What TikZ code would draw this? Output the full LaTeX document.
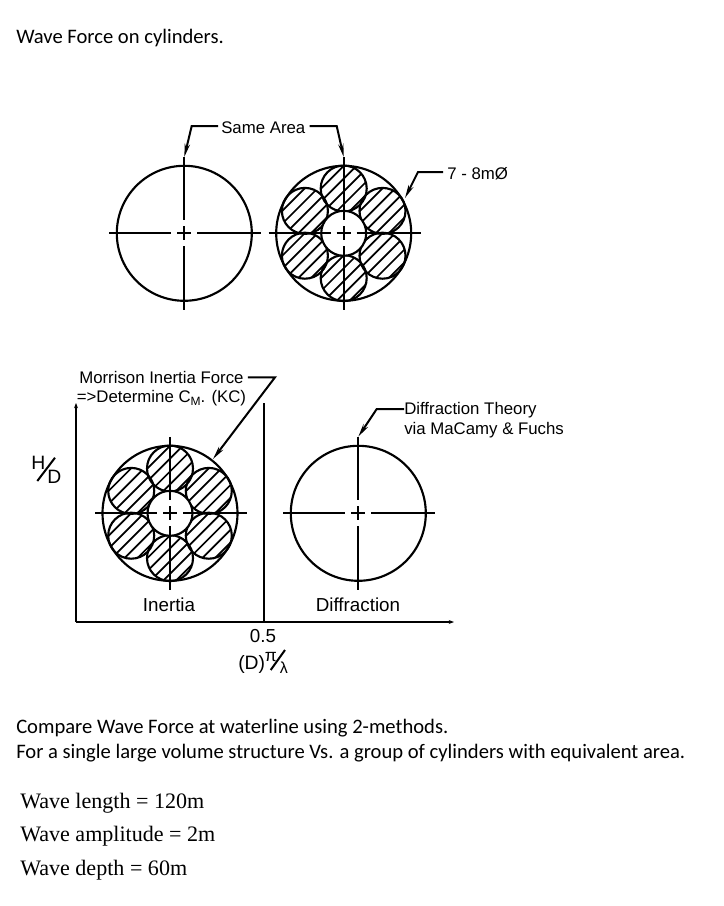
\documentclass[tikz,border=0pt]{standalone}
\usepackage{fontspec}
\setmainfont{Liberation Sans}
\newfontfamily\calfont{Carlito}
\newfontfamily\serfont{Liberation Serif}
\usetikzlibrary{arrows.meta}
\tikzset{
  outline/.style={line width=1.6pt},
  centreline/.style={line width=1.5pt},
  leader/.style={line width=1.5pt,-{Stealth[length=10pt,width=4pt]}},
  axisline/.style={line width=1.6pt},
  hatchline/.style={line width=1.3pt},
  dwg/.style={anchor=base west,inner sep=0pt,font=\fontsize{12.6}{15}\selectfont},
  dwgc/.style={anchor=base,inner sep=0pt,font=\fontsize{14.1}{16}\selectfont},
  note/.style={anchor=base west,inner sep=0pt,font=\calfont\fontsize{15.45}{18}\selectfont},
  given/.style={anchor=base west,inner sep=0pt,font=\serfont\fontsize{16.55}{19}\selectfont},
}
% centre lines with the central cross, local to the current scope
\newcommand\crosslines{%
  \draw[centreline] (-75,0) -- (-13,0) (-7,0) -- (7,0) (13,0) -- (77,0);
  \draw[centreline] (0,-76.5) -- (0,-13) (0,-7) -- (0,7) (0,13) -- (0,76.5);
}
\newcommand\plaincyl{%
  \draw[outline] (0,0) circle[radius=67.5];
  \crosslines
}
\newcommand\groupcyl{%
  \draw[outline] (0,0) circle[radius=67.5];
  \foreach \a in {30,90,150,210,270,330}{
    \begin{scope}[shift={(\a:44.8)}]
      \begin{scope}
        \clip (0,0) circle[radius=23];
        \foreach \k in {-5,...,5}
          \draw[hatchline] ({-30+12.8*\k+3},30) -- ({30+12.8*\k+3},-30);
      \end{scope}
      \draw[outline] (0,0) circle[radius=23];
    \end{scope}
  }
  \draw[outline,fill=white] (0,0) circle[radius=22.5];
  \crosslines
}
\begin{document}
\begin{tikzpicture}[x=0.75pt,y=-0.75pt]
\useasboundingbox (0,0) rectangle (724,906);
\fill[white] (0,0) rectangle (724,906);

\node[note] (title) at (16,44) {Wave Force on cylinders.};

% top row
\begin{scope}[shift={(184.3,233.3)}]\plaincyl\end{scope}
\begin{scope}[shift={(343.7,233.3)}]\groupcyl\end{scope}
\coordinate (tipL) at (184.3,157);
\coordinate (tipR) at (343.7,157);
\coordinate (tipH) at (405,198);
\coordinate (kneeL) at (191.7,126);
\coordinate (kneeR) at (336.7,126);
\coordinate (kneeH) at (418,172);
\node[dwg] (same) at (221,133) {Same Area};
\node[dwg] (dia) at (447,179.5) {7 - 8m\O};
\draw[leader] ([xshift=-2.2pt]same.west |- kneeL) -- (kneeL) -- (tipL);
\draw[leader] ([xshift=3pt]same.east |- kneeR) -- (kneeR) -- (tipR);
\draw[leader] ([xshift=-3pt]dia.west |- kneeH) -- (kneeH) -- (tipH);

% chart
\coordinate (origin) at (76,622);
\coordinate (ytop) at (76,403);
\coordinate (xend) at (454,622);
\coordinate (divtop) at (264,403);
\coordinate (divbot) at (264,622);
\draw[axisline,-{Stealth[length=4pt,width=3pt]}] (origin) -- (ytop);
\draw[axisline,-{Stealth[length=4pt,width=3pt]}] (origin) -- (xend);
\draw[axisline] (divbot) -- (divtop);

\begin{scope}[shift={(170,513.3)}]\groupcyl\end{scope}
\begin{scope}[shift={(358.3,513.3)}]\plaincyl\end{scope}

\node[dwg] (morr) at (79,383) {Morrison Inertia Force};
\node[dwg] (det) at (76.5,402.5) {=>Determine C\raisebox{-2.5pt}{\fontsize{9}{10}\selectfont M}. (KC)};
\coordinate (tipM) at (213,459);
\coordinate (kneeM) at (275,377.3);
\draw[leader] ([xshift=3pt]morr.east |- kneeM) -- (kneeM) -- (tipM);

\node[dwg] (dif1) at (404,414.5) {Diffraction Theory};
\node[dwg] (dif2) at (404,434.5) {via MaCamy \& Fuchs};
\coordinate (tipD) at (358.3,436.7);
\coordinate (kneeD) at (376.7,409);
\draw[leader] (dif1.west |- kneeD) -- (kneeD) -- (tipD);

\node[dwgc] (inertia) at (169,611.5) {Inertia};
\node[dwgc] (diffr) at (358,611.5) {Diffraction};
\node[dwgc] (half) at (263,642) {0.5};

% axis titles
\node[dwg] (H) at (31,469) {\fontsize{14.5}{15}\selectfont H};
\node[dwg] (D) at (47,483) {\fontsize{14.5}{15}\selectfont D};
\draw[line width=1.5pt] (37.3,481) -- (55,457.7);
\node[dwg] (Dp) at (238,669) {\fontsize{14.5}{15}\selectfont (D)};
\node[dwg] (pi) at (264.5,661) {\fontsize{13}{14}\selectfont π};
\node[dwg] (la) at (279.5,673) {\fontsize{12}{13}\selectfont λ};
\draw[line width=1.5pt] (270.7,670) -- (285,650);

% notes
\node[note] (n1) at (16,733.7) {Compare Wave Force at waterline using 2-methods.};
\node[note] (n2) at (16,758.7) {For a single large volume structure Vs. a group of cylinders with equivalent area.};
\node[given] (g1) at (20,808) {Wave length = 120m};
\node[given] (g2) at (20,841.7) {Wave amplitude = 2m};
\node[given] (g3) at (20,875.7) {Wave depth = 60m};
\end{tikzpicture}
\end{document}
